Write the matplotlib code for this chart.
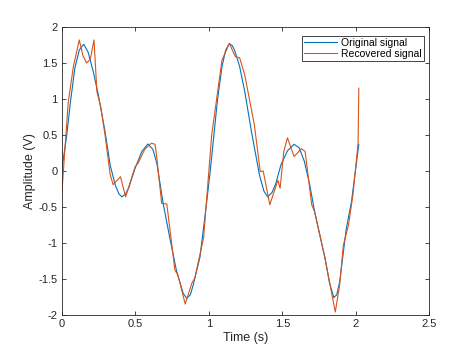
import matplotlib
matplotlib.use('Agg')
import matplotlib.pyplot as plt

# values
t_orig = [0.0, 0.035, 0.06, 0.09, 0.12, 0.15, 0.18, 0.215, 0.25, 0.295, 0.33, 0.365,
          0.39, 0.41, 0.435, 0.455, 0.50, 0.545, 0.586, 0.62, 0.647, 0.69, 0.737, 0.78,
          0.826, 0.85, 0.875, 0.895, 0.94, 0.985, 1.01, 1.03, 1.06, 1.09, 1.115, 1.14,
          1.16, 1.175, 1.21, 1.245, 1.29, 1.345, 1.375, 1.40, 1.43, 1.455, 1.49, 1.535,
          1.58, 1.615, 1.65, 1.685, 1.72, 1.79, 1.82, 1.85, 1.87, 1.89, 1.935, 1.97, 2.02]
y_orig = [0.0, 0.5, 0.96, 1.43, 1.68, 1.76, 1.65, 1.38, 1.05, 0.55, 0.08, -0.2,
          -0.32, -0.36, -0.32, -0.24, 0.04, 0.27, 0.375, 0.3, 0.11, -0.45, -0.95, -1.38,
          -1.70, -1.77, -1.72, -1.58, -1.2, -0.45, 0.0, 0.4, 1.0, 1.45, 1.68, 1.77,
          1.74, 1.68, 1.45, 1.1, 0.55, -0.06, -0.28, -0.36, -0.3, -0.18, 0.08, 0.28,
          0.37, 0.32, 0.13, -0.18, -0.57, -1.21, -1.55, -1.76, -1.72, -1.54, -0.80, -0.43, 0.37]

t_rec = [0.0, 0.045, 0.08, 0.12, 0.145, 0.17, 0.195, 0.22, 0.24, 0.265, 0.295, 0.33,
         0.35, 0.40, 0.435, 0.50, 0.52, 0.565, 0.61, 0.635, 0.645, 0.68, 0.715, 0.77,
         0.79, 0.84, 0.885, 0.905, 0.965, 1.02, 1.09, 1.14, 1.18, 1.21, 1.245, 1.31,
         1.35, 1.37, 1.415, 1.47, 1.485, 1.51, 1.535, 1.58, 1.63, 1.655, 1.70, 1.72,
         1.79, 1.86, 1.89, 1.915, 1.95, 1.98, 2.015, 2.02]
y_rec = [-0.35, 0.96, 1.45, 1.82, 1.6, 1.5, 1.55, 1.82, 1.1, 0.9, 0.5, -0.05,
         -0.19, -0.08, -0.36, 0.06, 0.11, 0.3, 0.385, 0.37, 0.22, -0.45, -0.46, -1.38,
         -1.44, -1.85, -1.56, -1.49, -0.93, 0.5, 1.54, 1.77, 1.59, 1.57, 1.33, 0.64,
         -0.01, 0.0, -0.47, -0.13, -0.24, 0.27, 0.46, 0.2, 0.31, 0.27, -0.47, -0.57,
         -1.21, -1.96, -1.58, -1.03, -0.75, -0.33, 0.385, 1.15]

xticks = [0, 0.5, 1, 1.5, 2, 2.5]
xtick_labels = ['0', '0.5', '1', '1.5', '2', '2.5']
yticks = [-2, -1.5, -1, -0.5, 0, 0.5, 1, 1.5, 2]
ytick_labels = ['-2', '-1.5', '-1', '-0.5', '0', '0.5', '1', '1.5', '2']

plt.rcParams['font.family'] = ['Liberation Sans', 'DejaVu Sans']

fig = plt.figure(figsize=(4.74, 3.55), dpi=100)
ax = fig.add_axes([0.13, 0.113, 0.776, 0.811])

ax.plot(t_orig, y_orig, color='#0072BD', linewidth=0.8, label='Original signal')
ax.plot(t_rec, y_rec, color='#D95319', linewidth=0.8, label='Recovered signal')

ax.set_xlim(0, 2.5)
ax.set_ylim(-2, 2)
ax.set_xticks(xticks)
ax.set_xticklabels(xtick_labels)
ax.set_yticks(yticks)
ax.set_yticklabels(ytick_labels)
ax.tick_params(direction='in', top=True, right=True, length=3, width=0.6,
               labelsize=8, colors='#262626', pad=3)
for s in ax.spines.values():
    s.set_linewidth(0.6)
    s.set_color('#262626')

ax.set_xlabel('Time (s)', fontsize=9, color='#262626', labelpad=2)
ax.set_ylabel('Amplitude (V)', fontsize=9, color='#262626', labelpad=2)

leg = ax.legend(loc='upper right', bbox_to_anchor=(0.985, 0.97), fontsize=7.5,
                fancybox=False, framealpha=1, edgecolor='#262626',
                handlelength=3.2, handletextpad=0.4, borderpad=0.2,
                labelspacing=0.1, borderaxespad=0)
leg.get_frame().set_linewidth(0.6)

plt.savefig('out.png')
